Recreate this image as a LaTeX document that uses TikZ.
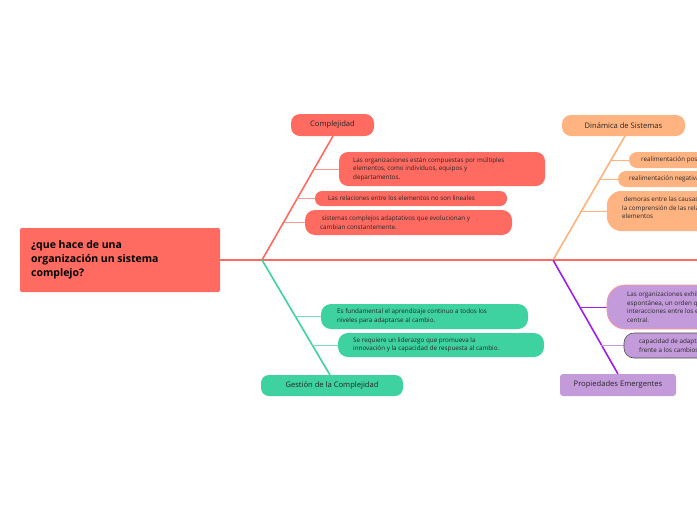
\documentclass[tikz,border=0pt]{standalone}
\usepackage{fontspec}
\setmainfont{Open Sans}
\begin{document}
\begin{tikzpicture}[x=1pt,y=-1pt,
  red/.style={fill=cR,draw=none,rounded corners=9pt},
  box/.style={rounded corners=9pt,draw=none},
  sm/.style={font=\fontsize{6.3}{8.5}\selectfont,align=left,anchor=west,inner sep=0pt,text=black!85},
  ttl/.style={font=\fontsize{7.6}{9}\selectfont,text=black!85,inner sep=0pt}]
\definecolor{cR}{HTML}{FF6B61}
\definecolor{cT}{HTML}{3DD29F}
\definecolor{cO}{HTML}{FFB380}
\definecolor{cP}{HTML}{C39BDB}
\definecolor{cPl}{HTML}{9B1FF0}
\useasboundingbox (0,0) rectangle (697,520);
\clip (0,0) rectangle (697,520);
\fill[white] (0,0) rectangle (697,520);
% trunks
\coordinate (L) at (262,260); \coordinate (R) at (553,260);
\draw[cR,line width=1.6pt] (220,260) -- (697,260);
\draw[cR,line width=1.6pt] (L) -- (333,136);
\draw[cT,line width=1.6pt] (L) -- (330,375);
\draw[cO,line width=1.6pt] (R) -- (625,136);
\draw[cPl,line width=1.6pt] (R) -- (618,374);
% branches
\draw[cR!70,line width=1pt] (314,169)--(340,169) (297,198)--(316,198) (284,222)--(306,222);
\draw[cT!70,line width=1pt] (295,316)--(322,316) (312,345)--(339,345);
\draw[cO,line width=1pt] (611,160)--(630,160) (600,179)--(619,179) (581,211)--(608,211);
\draw[cPl,line width=0.8pt] (580,307)--(608,307);
\draw[cP,line width=1pt] (601,345)--(625,345);
% central
\fill[cR,rounded corners=2pt] (20,228) rectangle (220,292);
\node[anchor=west,align=left,font=\fontsize{10.5}{14}\selectfont\bfseries,inner sep=0pt] (c) at (31,260) {¿que hace de una\\organización un sistema\\complejo?};
% Complejidad
\fill[red] (291,114) rectangle (374,136);
\node[ttl] (k) at (332.5,125) {Complejidad};
\fill[red] (339,152) rectangle (545,186);
\node[sm] (k1) at (353,169) {Las organizaciones están compuestas por múltiples\\elementos, como individuos, equipos y\\departamentos.};
\fill[red,rounded corners=7pt] (315,191) rectangle (507,206);
\node[sm] (k2) at (328,198.5) {Las relaciones entre los elementos no son lineales};
\fill[red,rounded corners=10pt] (305,210) rectangle (512,235);
\node[sm] (k3) at (320,222.5) {\ sistemas complejos adaptativos que evolucionan y\\cambian constantemente.};
% Gestion
\fill[cT,rounded corners=8pt] (261,375) rectangle (403,396);
\node[ttl] (g) at (332,385.5) {Gestión de la Complejidad};
\fill[cT,rounded corners=10pt] (321,304) rectangle (528,329);
\node[sm] (g1) at (337,316.5) {Es fundamental el aprendizaje continuo a todos los\\niveles para adaptarse al cambio.};
\fill[cT,rounded corners=10pt] (338,333) rectangle (544,357);
\node[sm] (g2) at (353,345) {Se requiere un liderazgo que promueva la\\innovación y la capacidad de respuesta al cambio.};
% Dinamica
\fill[cO,rounded corners=9pt] (562,115) rectangle (685,136);
\node[ttl] (d) at (623.5,125.5) {Dinámica de Sistemas};
\fill[cO,rounded corners=8pt] (629,152) rectangle (760,168);
\node[sm] (d1) at (641,160) {realimentación positiva};
\fill[cO,rounded corners=8pt] (618,171) rectangle (760,187);
\node[sm] (d2) at (629,179) {realimentación negativa};
\fill[cO,rounded corners=14pt] (607,191) rectangle (780,231);
\node[sm] (d3) at (622,208) {\ demoras entre las causas y efectos dificultan\\la comprensión de las relaciones entre los\\elementos};
% Propiedades
\fill[cP,rounded corners=3pt] (560,374) rectangle (676,396);
\node[ttl] (p) at (618,385) {Propiedades Emergentes};
\filldraw[fill=cP,draw=cR!70,line width=0.6pt,rounded corners=18pt] (607,285) rectangle (790,329);
\node[sm] (p1) at (627,307) {Las organizaciones exhiben una auto-organización\\espontánea, un orden que emerge de las\\interacciones entre los elementos sin control\\central.};
\filldraw[fill=cP,draw=black!70,line width=0.6pt,rounded corners=10pt] (624,333) rectangle (790,358);
\node[sm] (p2) at (639,345.5) {capacidad de adaptación\\frente a los cambios};
\end{tikzpicture}
\end{document}
